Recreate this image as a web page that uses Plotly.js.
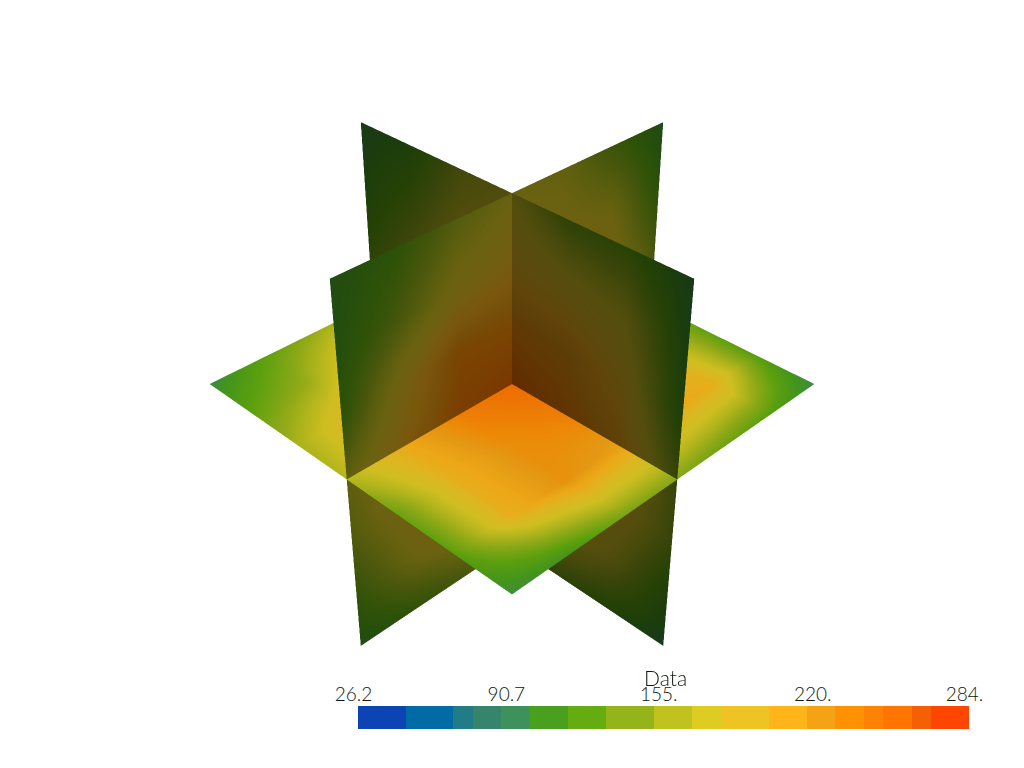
<!DOCTYPE html>
<html>
<head>
<meta charset="utf-8">
<script src="https://cdn.plot.ly/plotly-3.0.1.min.js"></script>
<style>
html,body{margin:0;padding:0;background:#fff;overflow:hidden;width:1024px;height:768px}
#plot{position:absolute;left:0;top:-216px;width:1024px;height:1200px}
</style>
</head>
<body>
<div id="plot"></div>
<script>
// Scale bands: edges in data units and their colours
const bandEdges = [26.2,46.5,66.3,74.7,86.7,98.8,114.8,130.8,151.1,167.1,179.4,199.6,215.6,227.5,239.7,247.7,260.0,268.0,284.0];
const bandColors = ['#0c44b6','#016ba5','#227c85','#36846c','#3e915a','#49a01e','#64ac0f','#94b419','#c0c31e','#decc23','#eec424','#ffb419','#f5a314','#ff9105','#ff8205','#ff7500','#f55f05','#ff4600'];
const tickValues = [26.2,90.7,155,220,284];
const tickLabels = ['26.2','90.7','155.','220.','284.'];
const gridAxis = [-1,-2/3,-1/3,0,1/3,2/3,1];

// horizontal slice: rows run from the rear corner side to the front corner side
const sliceZ = [
  [190,170,160,140,125,120, 97],
  [190,195,195,190,185,200,120],
  [200,200,205,210,205,208,130],
  [165,205,235,255,240,215,140],
  [150,198,225,240,228,226,135],
  [125,150,195,205,200,200,108],
  [ 97,125,155,160,128,122,100]
];
// left-facing vertical slice: rows are height from -1 to 1
const sliceX = [
  [110,140,150,170,140,120,102],
  [130,170,190,210,195,170,125],
  [150,185,200,235,225,190,150],
  [140,190,210,255,245,205,160],
  [140,190,200,232,235,185,118],
  [115,170,180,195,180,140,106],
  [100,130,165,170,150,118,104]
];
// right-facing vertical slice: rows are height from -1 to 1
const sliceY = [
  [ 98,120,150,150,130,115, 96],
  [120,150,180,195,195,165,110],
  [150,180,215,235,225,195,140],
  [165,205,235,255,240,215,140],
  [125,160,195,230,225,195,110],
  [108,135,175,195,185,170,102],
  [ 98,108,150,170,130,125, 96]
];

const vMin = bandEdges[0], vMax = bandEdges[bandEdges.length-1];
const n = bandColors.length;
const smoothScale = [[0,bandColors[0]]];
bandColors.forEach((c,i)=>smoothScale.push([((bandEdges[i]+bandEdges[i+1])/2-vMin)/(vMax-vMin),c]));
smoothScale.push([1,bandColors[n-1]]);
const stepScale = [];
bandColors.forEach((c,i)=>{stepScale.push([i/n,c]);stepScale.push([(i+1)/n,c]);});

const rows = gridAxis.map(()=>gridAxis.map((_,j)=>gridAxis[j]));
const cols = gridAxis.map((v)=>gridAxis.map(()=>v));
const zeros = gridAxis.map(()=>gridAxis.map(()=>0));

function slice(x,y,z,values,ambient){
  return {type:'surface',x:x,y:y,z:z,surfacecolor:values,cmin:vMin,cmax:vMax,colorscale:smoothScale,
    showscale:false,hoverinfo:'skip',
    lighting:{ambient:ambient,diffuse:0,specular:0,roughness:1,fresnel:0}};
}
const traces = [
  slice(cols,rows,zeros,sliceZ,0.93),
  slice(rows,zeros,cols,sliceX,0.48),
  slice(zeros,rows,cols,sliceY,0.38),
  {type:'heatmap',x:bandEdges,y:[0,1],z:[bandColors.map((_,i)=>i+0.5)],zmin:0,zmax:n,
   colorscale:stepScale,showscale:false,hoverinfo:'skip',xaxis:'x',yaxis:'y'}
];
const labelShift = 1.9;
const hiddenAxis = {visible:false,range:[-1,1],showbackground:false,showgrid:false,zeroline:false,showspikes:false};
const eye = 1.955;
const textFont = {family:'Lato Light, Lato, sans-serif',weight:300,size:19,color:'#0c1a0c'};
const titleFont = {family:'Lato Light, Lato, sans-serif',weight:300,size:21,color:'#0c1a0c'};
const layout = {
  width:1024,height:1200,autosize:false,margin:{l:0,r:0,t:0,b:0},
  paper_bgcolor:'#ffffff',plot_bgcolor:'rgba(0,0,0,0)',showlegend:false,
  font:textFont,
  scene:{domain:{x:[0,1],y:[0,1]},aspectmode:'cube',bgcolor:'rgba(0,0,0,0)',
    xaxis:hiddenAxis,yaxis:hiddenAxis,zaxis:hiddenAxis,
    camera:{eye:{x:eye,y:eye,z:eye},center:{x:0,y:0,z:0},up:{x:0,y:0,z:1},projection:{type:'perspective'}}},
  xaxis:{domain:[343.3/1024,983.2/1024],range:[20,290],side:'top',anchor:'y',
    tickmode:'array',tickvals:tickValues.map(v=>v-labelShift),ticktext:tickLabels,tickfont:textFont,
    ticks:'',showgrid:false,zeroline:false,showline:false,ticklabelstandoff:0},
  yaxis:{domain:[1-945/1200,1-922/1200],range:[0,1],visible:false,fixedrange:true},
  annotations:[{text:'Data',xref:'paper',yref:'paper',x:665/1024,y:1-(677+216)/1200,xanchor:'center',yanchor:'middle',showarrow:false,font:titleFont}]
};
Plotly.newPlot('plot',traces,layout,{displayModeBar:false,responsive:false});
</script>
</body>
</html>
